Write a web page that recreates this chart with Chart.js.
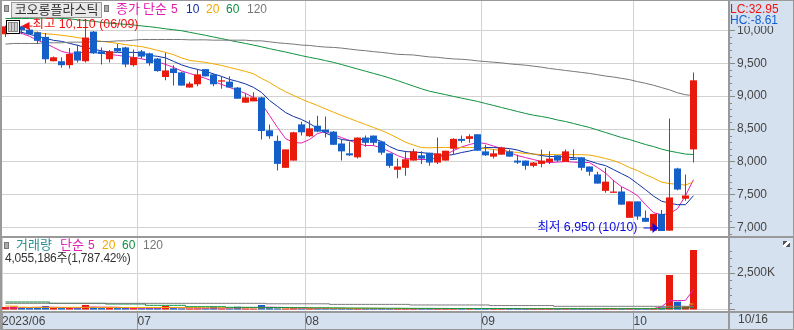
<!DOCTYPE html>
<html lang="ko">
<head>
<meta charset="utf-8">
<title>코오롱플라스틱</title>
<script src="https://cdn.jsdelivr.net/npm/chart.js@4"></script>
<style>
    html, body { margin: 0; padding: 0; background: #fff; }
    #wrap {
        position: relative; width: 794px; height: 330px; overflow: hidden;
        font-family: "Liberation Sans", "Noto Sans CJK KR", sans-serif;
        font-size: 13px; line-height: 14px; color: #444;
    }
    #wrap canvas { position: absolute; left: 0; }
    #wrap div, #wrap span { position: absolute; white-space: nowrap; }
    #wrap .num { font-size: 12px; }
    .rBand { left: 729px; top: 0; width: 65px; height: 330px; background: #d6e1ef; }
    .bBand { left: 0; top: 312px; width: 794px; height: 18px; background: #d6e1ef; }
    .line { background: #999; }
    .sq { width: 5px; height: 7px; background: #aaa; border: 1px solid #777; box-sizing: border-box; }
</style>
</head>
<body>
<div id="wrap">
    <div class="rBand"></div>
    <div class="bBand"></div>
    <canvas id="priceChart" width="794" height="237" style="top:0"></canvas>
    <canvas id="volumeChart" width="794" height="92" style="top:238px"></canvas>

    <!-- cadre -->
    <div class="line" style="left:0;top:0;width:794px;height:1px"></div>
    <div class="line" style="left:0;top:0;width:2px;height:330px"></div>
    <div class="line" style="left:728px;top:0;width:2px;height:330px"></div>
    <div class="line" style="left:793px;top:0;width:1px;height:330px"></div>
    <div class="line" style="left:0;top:236px;width:794px;height:2px"></div>
    <div class="line" style="left:0;top:311px;width:794px;height:2px"></div>
    <div class="line" style="left:0;top:329px;width:794px;height:1px"></div>

    <!-- legende prix -->
    <div class="sq" style="left:4px;top:5px"></div>
    <div style="left:11px;top:2px;width:89px;height:14px;background:#e8e8e8;border:1px solid #999;text-align:center;color:#333">코오롱플라스틱</div>
    <div class="sq" style="left:104px;top:5px"></div>
    <span style="left:116px;top:2px;color:#e020b0">종가</span>
    <span style="left:143px;top:2px;color:#e020b0">단순</span>
    <span class="num" style="left:171px;top:2px;color:#e020b0">5</span>
    <span class="num" style="left:186px;top:2px;color:#1030a0">10</span>
    <span class="num" style="left:206px;top:2px;color:#f0a800">20</span>
    <span class="num" style="left:226px;top:2px;color:#109040">60</span>
    <span class="num" style="left:247px;top:2px;color:#777">120</span>

    <!-- icone tableau -->
    <div style="left:6px;top:20px;width:14px;height:14px;background:#fff;border:1px solid #000;box-sizing:border-box"></div>
    <div style="left:8px;top:22px;width:10px;height:10px;box-sizing:border-box;border:1px solid #888;background:repeating-linear-gradient(90deg,#ccc 0 2px,#888 2px 3px)"></div>

    <!-- LC / HC -->
    <div style="left:730px;top:1px;width:63px;height:25px;background:#d6e1ef"></div>
    <span class="num" style="left:730px;top:2px;color:#f01010">LC:32.95</span>
    <span class="num" style="left:730px;top:13px;color:#1060d0">HC:-8.61</span>

    <!-- legende volume -->
    <div class="sq" style="left:4px;top:242px"></div>
    <span style="left:16px;top:238px;color:#2a9090">거래량</span>
    <span style="left:60px;top:238px;color:#e020b0">단순</span>
    <span class="num" style="left:88px;top:238px;color:#e020b0">5</span>
    <span class="num" style="left:102px;top:238px;color:#f0a800">20</span>
    <span class="num" style="left:122px;top:238px;color:#109040">60</span>
    <span class="num" style="left:143px;top:238px;color:#777">120</span>
    <span class="num" style="left:5px;top:251px;color:#333;letter-spacing:-0.2px">4,055,186주(1,787.42%)</span>

    <!-- bouton agrandir -->
    <div style="left:783px;top:241px;width:7px;height:6px;background:linear-gradient(135deg,#555 38%,#fff 38%,#fff 62%,#555 62%)"></div>
</div>

<script>
// Dates des seances
const dates = [
    '06/08','06/09','06/12','06/13','06/14','06/15','06/16','06/19','06/20','06/21','06/22','06/23','06/26','06/27','06/28','06/29','06/30',
    '07/03','07/04','07/05','07/06','07/07','07/10','07/11','07/12','07/13','07/14','07/17','07/18','07/19','07/20','07/21','07/24','07/25','07/26','07/27','07/28','07/31',
    '08/01','08/02','08/03','08/04','08/07','08/08','08/09','08/10','08/11','08/14','08/16','08/17','08/18','08/21','08/22','08/23','08/24','08/25','08/28','08/29','08/30','08/31',
    '09/01','09/04','09/05','09/06','09/07','09/08','09/11','09/12','09/13','09/14','09/15','09/18','09/19','09/20','09/21','09/22','09/25','09/26','09/27',
    '10/04','10/05','10/06','10/10','10/11','10/12','10/13','10/16'
];

// Bougies
const opens = [9940,10010,10060,10010,9970,9900,9530,9530,9470,9680,9530,9980,9680,9560,9730,9740,9470,9680,9650,9570,9290,9420,9360,9130,9180,9410,9330,9220,9220,9130,8900,8920,8980,8480,8320,7910,8020,8570,8390,8550,8490,8460,8280,8130,8070,8370,8400,8310,8130,7880,7910,8020,8100,8140,7990,8020,8200,8350,8350,8420,8160,8080,8110,8160,8020,8020,7940,7970,8000,8100,8000,8050,8070,7930,7810,7560,7530,7550,7150,7400,7150,6955,7210,6955,7900,7440,8190];
const closes = [10060,10090,10000,9940,9840,9560,9590,9470,9640,9540,9890,9650,9640,9680,9680,9480,9590,9600,9500,9380,9390,9350,9160,9190,9330,9300,9180,9240,9130,8960,8980,8980,8470,8390,7970,8190,8450,8450,8510,8460,8450,8260,8160,8100,8370,8290,8290,8140,7940,7930,8040,8160,8050,7990,8130,8170,8350,8320,8390,8170,8100,8130,8220,8080,7990,7940,7990,8020,8050,8020,8160,8030,7910,7850,7670,7700,7550,7350,7400,7170,7090,7210,6950,7460,7580,7490,9240];
const highs = [10070,10110,10070,10030,9980,9960,9600,9590,9730,9780,10050,9990,9740,9700,9790,9750,9710,9700,9660,9580,9660,9470,9370,9220,9410,9410,9340,9300,9300,9140,9040,9060,8990,8570,8400,8190,8460,8610,8630,8700,8690,8470,8350,8310,8370,8400,8400,8320,8130,8050,8170,8200,8160,8140,8370,8170,8360,8400,8420,8420,8260,8190,8230,8190,8110,8020,8000,8190,8160,8100,8190,8190,8070,7930,7850,7910,7720,7620,7400,7400,7260,7210,7270,8660,7910,7810,9360];
const lows = [9900,9990,9940,9940,9790,9500,9530,9430,9420,9510,9510,9640,9480,9510,9670,9440,9450,9570,9460,9370,9240,9160,9160,9130,9150,9300,9150,9110,9130,8960,8900,8920,8340,8350,7870,7910,8020,8400,8380,8450,8370,8260,8020,8090,8050,8230,8250,8110,7910,7750,7790,8020,7970,7940,7970,8020,8110,8290,8290,8170,8090,8050,8110,8080,7970,7880,7920,7920,7970,8000,8000,8030,7870,7790,7670,7530,7530,7350,7150,7120,7090,6955,6950,6955,7570,7410,7990];

// Moyennes mobiles du prix
const ma5 = [10046,10000,9954,9909,9848,9802,9741,9680,9650,9657,9665,9665,9650,9634,9619,9604,9589,9566,9543,9520,9482,9436,9383,9345,9307,9269,9223,9178,9132,9086,9041,8980,8888,8706,8523,8355,8294,8287,8340,8431,8462,8416,8370,8325,8279,8249,8249,8210,8157,8097,8051,8043,8036,8036,8066,8104,8173,8226,8264,8294,8279,8241,8203,8142,8097,8066,8036,8005,7990,7997,8005,7997,7990,7990,7914,7830,7716,7624,7563,7487,7350,7228,7198,7213,7289,7487,7731];
const ma10 = [10030,10000,9970,9939,9909,9878,9848,9832,9802,9772,9741,9711,9688,9670,9665,9665,9665,9657,9619,9604,9581,9528,9475,9436,9406,9376,9338,9300,9254,9223,9185,9132,9056,8934,8843,8751,8690,8645,8584,8508,8439,8386,8340,8325,8332,8348,8355,8310,8234,8180,8157,8150,8142,8127,8112,8097,8112,8142,8165,8195,8218,8218,8210,8203,8180,8142,8119,8097,8081,8081,8073,8066,8051,8013,7974,7944,7883,7822,7761,7670,7578,7480,7403,7373,7350,7350,7487];
const ma20 = [10076,10053,10023,9985,9965,9947,9939,9924,9909,9889,9871,9852,9833,9817,9802,9782,9767,9752,9726,9695,9665,9630,9581,9543,9528,9513,9490,9467,9436,9406,9376,9338,9269,9208,9132,9067,9010,8954,8904,8858,8805,8756,8706,8660,8614,8569,8523,8477,8424,8363,8299,8256,8218,8214,8218,8220,8220,8220,8220,8220,8203,8188,8173,8157,8142,8127,8119,8112,8112,8110,8110,8110,8110,8104,8081,8051,8020,7974,7914,7868,7807,7754,7693,7670,7662,7647,7700];
const ma60 = [10180,10180,10180,10180,10185,10185,10185,10180,10175,10160,10150,10137,10120,10110,10100,10090,10080,10067,10055,10040,10023,10008,9994,9970,9947,9924,9898,9874,9848,9823,9800,9775,9749,9721,9695,9670,9642,9615,9589,9566,9539,9513,9480,9446,9412,9379,9345,9312,9275,9236,9193,9152,9111,9074,9048,9022,8995,8969,8945,8919,8888,8858,8827,8797,8766,8736,8710,8690,8667,8637,8614,8584,8553,8523,8485,8447,8409,8370,8340,8302,8264,8233,8195,8165,8142,8119,8112];
const ma120 = [9790,9800,9800,9800,9800,9810,9810,9810,9820,9820,9820,9830,9830,9830,9840,9840,9850,9860,9860,9860,9860,9860,9860,9855,9855,9855,9850,9850,9850,9850,9850,9840,9840,9825,9810,9800,9790,9775,9770,9755,9745,9740,9730,9715,9700,9690,9675,9665,9650,9635,9630,9625,9610,9595,9590,9575,9565,9560,9550,9535,9525,9515,9505,9490,9480,9470,9455,9440,9420,9405,9390,9375,9360,9345,9325,9305,9290,9270,9250,9220,9195,9165,9130,9095,9050,9020,9010];

// Volume (milliers d'actions) et ses moyennes
const volumes = [200,230,150,130,150,270,140,130,160,130,340,170,130,150,130,150,130,120,130,130,270,130,110,100,100,110,220,100,100,220,100,90,340,130,110,100,120,90,100,110,90,80,100,90,110,90,80,90,100,80,90,100,80,70,110,100,120,90,80,120,90,80,90,80,70,90,80,100,90,80,100,70,90,80,90,100,80,90,100,90,110,90,180,2365,560,227,4055];
const volMa5 = [130,140,160,170,180,190,180,170,150,140,190,200,190,190,180,140,140,130,130,130,160,160,150,140,130,120,130,130,130,150,150,150,190,190,180,170,130,110,100,100,100,100,100,90,90,90,90,90,90,90,90,90,90,90,90,90,100,100,100,100,100,95,90,90,90,85,80,85,85,85,90,90,85,85,85,85,90,85,90,90,90,90,225,630,640,650,1395];
const volMa20 = [270,260,190,180,180,180,180,180,180,180,180,180,180,180,180,170,170,170,170,170,170,170,160,160,160,150,150,150,150,150,150,150,150,150,150,150,140,140,130,130,130,120,120,110,110,110,110,110,100,100,100,100,100,100,100,100,100,100,100,100,100,100,100,100,100,100,100,100,100,100,100,100,100,100,100,100,100,100,100,100,100,105,110,225,225,225,405];
const volMa60 = [540,540,540,540,540,540,450,450,450,450,450,450,450,405,405,405,405,405,315,315,315,315,315,225,225,225,225,225,180,180,180,180,180,170,170,165,160,160,155,150,150,145,140,135,130,130,125,120,120,120,115,110,110,110,105,105,100,100,100,100,100,100,100,100,100,90,90,90,90,90,90,90,90,90,90,90,90,90,90,90,90,90,90,110,125,130,180];
const volMa120 = [450,450,450,450,450,450,450,450,450,450,450,450,450,450,450,450,450,450,450,450,450,450,450,450,450,450,450,450,450,450,450,450,450,420,420,420,420,420,420,420,420,380,380,380,380,380,380,380,380,380,380,340,340,340,340,340,340,340,340,340,340,300,300,300,300,300,300,300,300,250,250,250,250,250,250,250,250,250,250,250,250,250,250,250,250,250,250];

// Graduations
const priceTicks = [7000, 7500, 8000, 8500, 9000, 9500, 10000];
const priceMinorTicks = [6900,7100,7200,7300,7400,7600,7700,7800,7900,8100,8200,8300,8400,8600,8700,8800,8900,9100,9200,9300,9400,9600,9700,9800,9900];
const volumeTicks = [0, 2500];
const volumeMinorTicks = [500, 1000, 1500, 2000, 3000, 3500, 4000];

const RED = '#e81a0c';
const BLUE = '#155fc8';
const FONT = '"Liberation Sans", "Noto Sans CJK KR", sans-serif';
const xMin = -0.4375;
const xMax = 90.4375;

const candleColors = opens.map((o, i) => closes[i] >= o ? RED : BLUE);
const xy = values => values.map((v, i) => ({ x: i, y: v }));

function lineDataset(values, color, width) {
    return {
        type: 'line',
        data: xy(values),
        borderColor: color,
        borderWidth: width,
        pointRadius: 0,
        tension: 0,
        fill: false
    };
}

function barDataset(data, thickness, order) {
    return {
        type: 'bar',
        data: data,
        backgroundColor: candleColors,
        borderWidth: 0,
        barThickness: thickness,
        grouped: false,
        inflateAmount: 0,
        order: order
    };
}

// Petits traits de l'axe de droite
function minorTickPlugin(id, values) {
    return {
        id: id,
        afterDraw(chart) {
            const { ctx, chartArea, scales } = chart;
            ctx.save();
            ctx.fillStyle = '#888';
            values.forEach(v => {
                const y = Math.round(scales.y.getPixelForValue(v));
                ctx.fillRect(chartArea.right, y, 3, 1);
            });
            ctx.restore();
        }
    };
}

// Annotations du plus haut et du plus bas
const extremesPlugin = {
    id: 'extremes',
    afterDatasetsDraw(chart) {
        const { ctx, scales } = chart;
        const top = Math.max(...highs);
        const bottom = Math.min(...lows);
        const iTop = highs.indexOf(top);
        const iBottom = lows.indexOf(bottom);

        ctx.save();
        ctx.font = '12.4px ' + FONT;
        ctx.textBaseline = 'middle';

        // plus haut, fleche vers la gauche
        let x = scales.x.getPixelForValue(iTop) + 8;
        let y = scales.y.getPixelForValue(top) + 3;
        ctx.fillStyle = '#f01010';
        ctx.strokeStyle = '#f01010';
        ctx.beginPath();
        ctx.moveTo(x, y);
        ctx.lineTo(x + 8, y - 4);
        ctx.lineTo(x + 8, y + 4);
        ctx.fill();
        ctx.beginPath();
        ctx.moveTo(x + 8, y);
        ctx.lineTo(x + 11, y);
        ctx.stroke();
        ctx.textAlign = 'left';
        ctx.fillText('최고 ' + top.toLocaleString('en-US') + ' (' + dates[iTop] + ')', x + 11, y - 1);

        // plus bas, fleche vers la droite
        x = scales.x.getPixelForValue(iBottom) - 3;
        y = scales.y.getPixelForValue(bottom) - 3;
        ctx.fillStyle = '#0a0ae0';
        ctx.strokeStyle = '#0a0ae0';
        ctx.beginPath();
        ctx.moveTo(x, y);
        ctx.lineTo(x - 6, y - 5);
        ctx.lineTo(x - 6, y + 5);
        ctx.fill();
        ctx.beginPath();
        ctx.moveTo(x - 6, y);
        ctx.lineTo(x - 15, y);
        ctx.stroke();
        ctx.textAlign = 'right';
        ctx.fillText('최저 ' + bottom.toLocaleString('en-US') + ' (' + dates[iBottom] + ')', x - 21, y);
        ctx.restore();
    }
};

// Date de la derniere seance, dans le coin en bas a droite
const lastDatePlugin = {
    id: 'lastDate',
    afterDraw(chart) {
        const { ctx, chartArea } = chart;
        ctx.save();
        ctx.font = '12px ' + FONT;
        ctx.fillStyle = '#444';
        ctx.textAlign = 'left';
        ctx.textBaseline = 'top';
        ctx.fillText(dates[dates.length - 1], chartArea.right + 9, chartArea.bottom + 3);
        ctx.restore();
    }
};

// Une ligne verticale au premier jour de chaque mois
const monthStarts = [];
dates.forEach((d, i) => {
    if (i > 0 && d.slice(0, 2) !== dates[i - 1].slice(0, 2)) monthStarts.push(i);
});

function noPadding(scale) {
    scale.paddingLeft = 0;
    scale.paddingRight = 0;
    scale.paddingTop = 0;
    scale.paddingBottom = 0;
}

function xScale(showLabels) {
    return {
        type: 'linear',
        min: xMin,
        max: xMax,
        offset: false,
        afterBuildTicks(scale) {
            const ticks = monthStarts.map(i => ({ value: i - 0.5 }));
            if (showLabels) ticks.unshift({ value: xMin });
            scale.ticks = ticks;
        },
        afterTickToLabelConversion(scale) {
            scale.ticks.forEach(t => {
                t.label = t.value === xMin ? '2023/' + dates[0].slice(0, 2)
                    : dates[t.value + 0.5].slice(0, 2);
            });
        },
        afterFit(scale) {
            scale.height = showLabels ? 19 : 0;
            noPadding(scale);
        },
        ticks: {
            display: showLabels,
            align: 'start',
            padding: -15,
            maxRotation: 0,
            autoSkip: false,
            color: '#444',
            font: { family: FONT, size: 12 }
        },
        grid: {
            offset: false,
            color: '#d2d2d2',
            drawTicks: showLabels,
            tickLength: 18,
            tickColor: '#999'
        },
        border: { display: false }
    };
}

function yScale(min, max, tickValues, format) {
    return {
        type: 'linear',
        position: 'right',
        min: min,
        max: max,
        afterBuildTicks(scale) {
            scale.ticks = tickValues.map(v => ({ value: v }));
        },
        afterFit(scale) {
            scale.width = 65;
            noPadding(scale);
        },
        ticks: {
            padding: 2,
            color: '#444',
            font: { family: FONT, size: 12 },
            callback: format
        },
        grid: {
            color: '#d2d2d2',
            tickLength: 6,
            tickColor: '#888'
        },
        border: { display: false }
    };
}

const baseOptions = {
    responsive: false,
    animation: false,
    events: [],
    plugins: { legend: { display: false }, tooltip: { enabled: false } }
};

new Chart(document.getElementById('priceChart'), {
    data: {
        datasets: [
            barDataset(xy(lows.map((l, i) => [l, highs[i]])), 1, 1),
            barDataset(xy(opens.map((o, i) => [o, closes[i]])), 7, 0),
            { ...lineDataset(ma120, '#777777', 1), order: 2 },
            { ...lineDataset(ma60, '#109040', 1), order: 2 },
            { ...lineDataset(ma20, '#f0a800', 1), order: 2 },
            { ...lineDataset(ma10, '#1030a0', 1), order: 2 },
            { ...lineDataset(ma5, '#e020b0', 1), order: 2 }
        ]
    },
    options: {
        ...baseOptions,
        layout: { padding: { left: 2, top: 0, right: 0, bottom: 0 } },
        scales: {
            x: xScale(false),
            y: yScale(6858.7, 10460.5, priceTicks, v => v.toLocaleString('en-US'))
        }
    },
    plugins: [minorTickPlugin('priceMinor', priceMinorTicks), extremesPlugin]
});

new Chart(document.getElementById('volumeChart'), {
    data: {
        datasets: [
            barDataset(xy(volumes), 7, 2),
            { ...lineDataset(volMa120, '#777777', 1), order: 1, stepped: 'middle' },
            { ...lineDataset(volMa60, '#109040', 1), order: 1, stepped: 'middle' },
            { ...lineDataset(volMa20, '#f0a800', 1), order: 1, stepped: 'middle' },
            { ...lineDataset(volMa5, '#e020b0', 1), order: 1 }
        ]
    },
    options: {
        ...baseOptions,
        layout: { padding: { left: 2, top: 0, right: 0, bottom: 0 } },
        scales: {
            x: xScale(true),
            y: yScale(-67.6, 4867, volumeTicks, v => v === 0 ? '' : v.toLocaleString('en-US') + 'K')
        }
    },
    plugins: [minorTickPlugin('volumeMinor', volumeMinorTicks), lastDatePlugin]
});
</script>
</body>
</html>
